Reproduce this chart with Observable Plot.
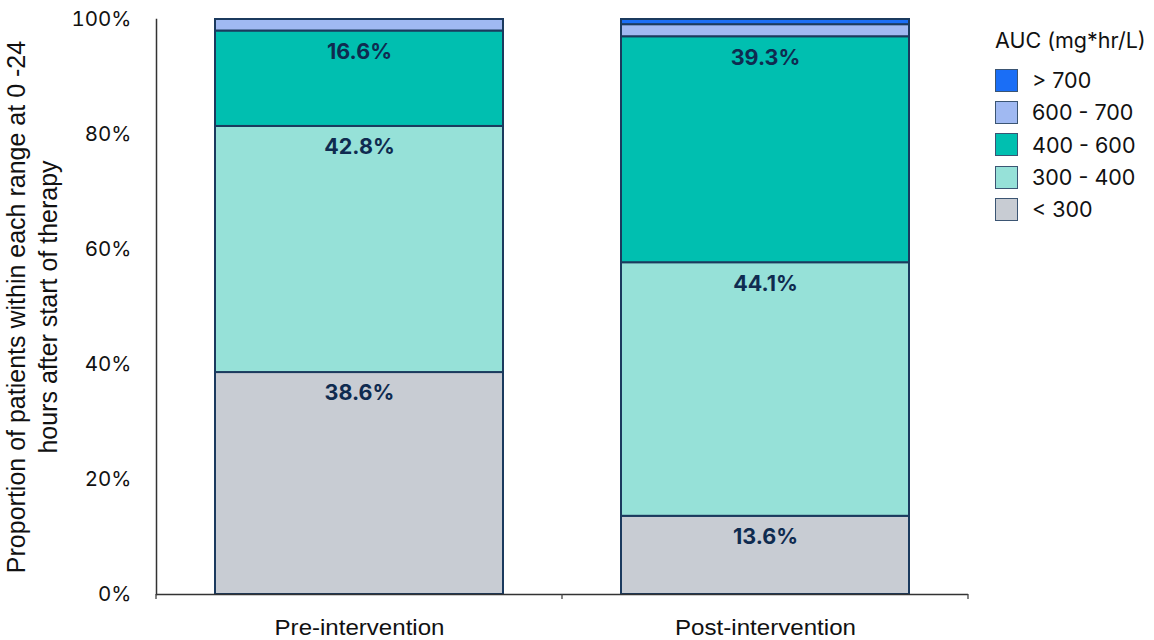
<!DOCTYPE html>
<html>
<head>
<meta charset="utf-8">
<script src="https://cdn.jsdelivr.net/npm/d3@7"></script>
<script src="https://cdn.jsdelivr.net/npm/@observablehq/plot@0.6"></script>
<style>
  html, body { margin: 0; padding: 0; background: #fff; }
  #wrap { position: relative; width: 1154px; height: 640px; }
  #legend { position: absolute; left: 995px; top: 27px; font-family: Inter, "Open Sans", sans-serif; color: #111; }
  #legend .title { font-size: 21.5px; margin-bottom: 11px; }
  #legend .row { display: flex; align-items: center; height: 32.3px; font-size: 21.5px; }
  #legend .sw { width: 23px; height: 23px; box-sizing: border-box; border: 1.5px solid #3b5573; margin-right: 14px; }
</style>
</head>
<body>
<div id="wrap"><div id="legend"></div></div>
<script>
const groups = ["Pre-intervention", "Post-intervention"];
const ranges = ["< 300", "300 - 400", "400 - 600", "600 - 700", "> 700"];
const preValues = [38.6, 42.8, 16.6, 2.0, 0];
const postValues = [13.6, 44.1, 39.3, 2.1, 0.9];
const colors = ["#c8ccd3", "#96e1d8", "#00bfb0", "#a0b9f2", "#1a6ef6"];
const yTicks = [0, 20, 40, 60, 80, 100];
const yTitle = "Proportion of patients within each range at 0 -24\nhours after start of therapy";
const legendTitle = "AUC (mg*hr/L)";

const data = [];
[preValues, postValues].forEach((vals, gi) => {
  vals.forEach((v, ri) => data.push({group: groups[gi], range: ranges[ri], value: v}));
});
const shown = data.filter(d => d.value > 0);

const edgeTicks = (index, scales, values, dimensions) => {
  const g = d3.create("svg:g");
  const step = scales.x.step ? scales.x.step() : 0;
  const xs = [scales.x(groups[0]) - (step - scales.x.bandwidth()) / 2];
  groups.forEach(gr => xs.push(scales.x(gr) + scales.x.bandwidth() + (step - scales.x.bandwidth()) / 2));
  const y0 = dimensions.height - dimensions.marginBottom;
  xs.forEach(x => g.append("line").attr("x1", x).attr("x2", x).attr("y1", y0).attr("y2", y0 + 5)
    .attr("stroke", "#444").attr("stroke-width", 1.3));
  return g.node();
};

const chart = Plot.plot({
  width: 1154,
  height: 640,
  marginLeft: 156,
  marginRight: 186,
  marginTop: 19,
  marginBottom: 46,
  style: {fontFamily: "Inter, 'Open Sans', sans-serif", background: "transparent"},
  x: {domain: groups, paddingInner: 0.29, paddingOuter: 0.145, label: null},
  y: {domain: [0, 100], label: null},
  color: {domain: ranges, range: colors},
  marks: [
    Plot.barY(shown, Plot.stackY({x: "group", y: "value", fill: "range", stroke: "#1b3a5e", strokeWidth: 2})),
    Plot.text(shown.filter(d => d.value >= 10), Plot.stackY2({
      x: "group", y: "value", text: d => d.value.toFixed(1) + "%",
      dy: 21, fontSize: 21.5, fontWeight: "bold", fill: "#0f2b50"
    })),
    Plot.axisY(yTicks, {tickSize: 0, tickPadding: 25, tickFormat: d => d + "%", fontSize: 20.5, label: null, fill: "#111"}),
    Plot.axisX({tickSize: 0, tickPadding: 25, fontSize: 22, label: null, fill: "#111",
      fontFamily: "'Liberation Sans', Arial, sans-serif"}),
    Plot.frame({anchor: "left", stroke: "#333", strokeWidth: 1.5}),
    Plot.ruleY([0], {stroke: "#333", strokeWidth: 1.5}),
    edgeTicks,
    Plot.text([yTitle], {frameAnchor: "left", rotate: -90, dx: -126, textAnchor: "middle", fontSize: 25, fill: "#111",
      fontFamily: "'Liberation Sans', Arial, sans-serif", lineHeight: 1.28, ariaLabel: "ytitle"})
  ]
});
document.getElementById("wrap").prepend(chart);

// Stretch texts along their baseline to match the reference's wide lettering
function stretch(textEl, targetLen) {
  const spans = textEl.querySelectorAll("tspan");
  const len = spans.length ? spans[0].getComputedTextLength() : textEl.getComputedTextLength();
  if (len > 0) {
    const f = targetLen / len;
    textEl.setAttribute("transform", (textEl.getAttribute("transform") || "") + ` scale(${f},1)`);
  }
}
const yt = chart.querySelector('g[aria-label="ytitle"] text');
if (yt) stretch(yt, 619);
const xTargets = [170, 181];
chart.querySelectorAll('g[aria-label="x-axis tick label"] text').forEach((el, i) => stretch(el, xTargets[i]));

const legend = document.getElementById("legend");
const t = document.createElement("div");
t.className = "title";
t.textContent = legendTitle;
legend.appendChild(t);
ranges.slice().reverse().forEach(r => {
  const row = document.createElement("div");
  row.className = "row";
  const sw = document.createElement("div");
  sw.className = "sw";
  sw.style.background = colors[ranges.indexOf(r)];
  const lab = document.createElement("span");
  lab.textContent = r;
  row.appendChild(sw);
  row.appendChild(lab);
  legend.appendChild(row);
});
</script>
</body>
</html>
